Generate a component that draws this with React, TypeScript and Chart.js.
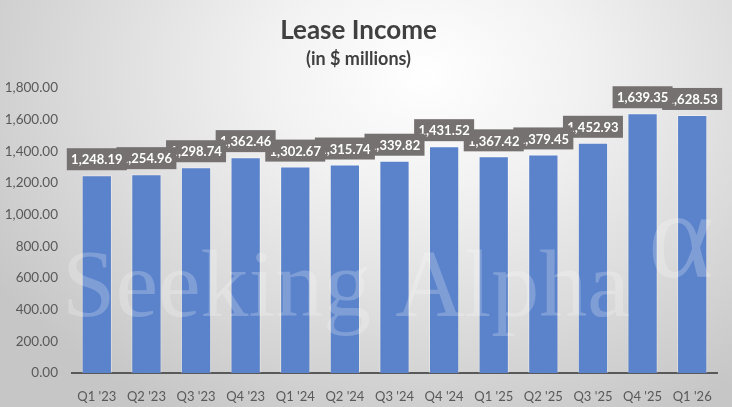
import React, { useEffect, useRef } from "react";
import { Chart, registerables } from "chart.js";

Chart.register(...registerables);

const quarters = ["Q1 '23", "Q2 '23", "Q3 '23", "Q4 '23", "Q1 '24", "Q2 '24", "Q3 '24", "Q4 '24", "Q1 '25", "Q2 '25", "Q3 '25", "Q4 '25", "Q1 '26"];
const leaseIncome = [1248.19, 1254.96, 1298.74, 1362.46, 1302.67, 1315.74, 1339.82, 1431.52, 1367.42, 1379.45, 1452.93, 1639.35, 1628.53];

const fmt = (v: number) =>
    v.toLocaleString("en-US", { minimumFractionDigits: 2, maximumFractionDigits: 2 });

// value boxes above bars, drawn last-to-first so earlier boxes sit on top
const valueLabels = {
    id: "valueLabels",
    afterDatasetsDraw(chart: any) {
        const ctx = chart.ctx;
        const meta = chart.getDatasetMeta(0);
        ctx.save();
        ctx.font = "bold 13px Lato";
        ctx.textAlign = "center";
        ctx.textBaseline = "middle";
        for (let i = meta.data.length - 1; i >= 0; i--) {
            const bar = meta.data[i];
            const w = 60;
            const h = 22;
            const x = bar.x - w / 2;
            const y = bar.y - 5 - h;
            ctx.fillStyle = "#767171";
            ctx.fillRect(x, y, w, h);
            ctx.fillStyle = "#ffffff";
            ctx.fillText(fmt(leaseIncome[i]), bar.x, y + h / 2 + 1);
        }
        ctx.restore();
    },
};

const watermark = {
    id: "watermark",
    afterDatasetsDraw(chart: any) {
        const ctx = chart.ctx;
        ctx.save();
        ctx.fillStyle = "rgba(255,255,255,0.22)";
        ctx.textAlign = "left";
        ctx.textBaseline = "alphabetic";
        ctx.font = "96px 'Liberation Serif'";
        ctx.fillText("Seeking Alpha", 62, 316);
        ctx.font = "125px 'Liberation Serif'";
        ctx.fillText("\u03B1", 648, 277);
        ctx.restore();
    },
};

export default function App() {
    const canvas = useRef<HTMLCanvasElement>(null);

    useEffect(() => {
        document.body.style.margin = "0";
        const chart = new Chart(canvas.current!, {
            type: "bar",
            data: {
                labels: quarters,
                datasets: [
                    {
                        label: "Lease Income",
                        data: leaseIncome,
                        backgroundColor: "#5b83cb",
                        borderColor: "rgba(255,255,255,0.35)",
                        borderWidth: 1,
                        barPercentage: 0.61,
                        categoryPercentage: 1,
                    },
                ],
            },
            options: {
                animation: false,
                responsive: true,
                maintainAspectRatio: false,
                layout: { padding: { left: 0, right: 15, top: 0, bottom: 0 } },
                plugins: {
                    legend: { display: false },
                    tooltip: { enabled: false },
                    title: {
                        display: true,
                        text: "Lease Income",
                        color: "#404040",
                        font: { family: "Lato", size: 26, weight: "bold" },
                        padding: { top: 15, bottom: 0 },
                    },
                    subtitle: {
                        display: true,
                        text: "(in $ millions)",
                        color: "#404040",
                        font: { family: "Lato", size: 18, weight: "bold" },
                        padding: { top: 2, bottom: 18 },
                    },
                },
                scales: {
                    x: {
                        grid: { display: false },
                        border: { display: true, color: "#595959", width: 2 },
                        afterFit: (scale: any) => {
                            scale.height = 34;
                        },
                        ticks: { color: "#595959", font: { family: "Lato", size: 13 }, padding: 8 },
                    },
                    y: {
                        min: 0,
                        max: 1800,
                        grid: { display: false },
                        border: { display: false },
                        afterFit: (scale: any) => {
                            scale.width = 72;
                        },
                        ticks: {
                            stepSize: 200,
                            color: "#595959",
                            font: { family: "Lato", size: 13.5 },
                            padding: 6,
                            callback: (v: any) => fmt(Number(v)),
                        },
                    },
                },
            },
            plugins: [watermark, valueLabels],
        });
        return () => {
            chart.destroy();
        };
    }, []);

    return (
        <div
            style={{
                width: 732,
                height: 407,
                background:
                    "radial-gradient(ellipse 70% 95% at 58% 18%, #ffffff 0%, #f2f2f2 30%, #c6c6c6 100%)",
            }}
        >
            <canvas ref={canvas}></canvas>
        </div>
    );
}
